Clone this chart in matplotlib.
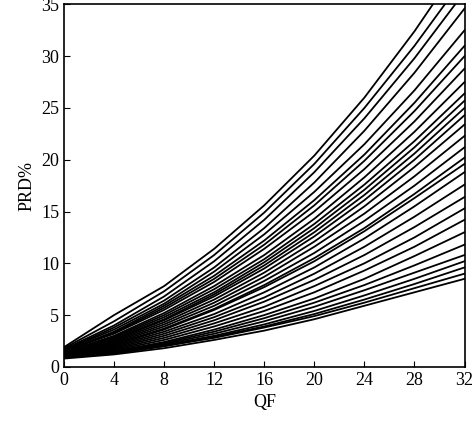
import matplotlib
matplotlib.use("Agg")
import matplotlib.pyplot as plt
import numpy as np

qf = [0, 4, 8, 12, 16, 20, 24, 28, 32]
curves = [
[0.8,1.2,1.8,2.6,3.5,4.6,5.9,7.2,8.5],
[0.9,1.3,2.0,2.8,3.8,4.9,6.2,7.6,9.0],
[0.9,1.3,2.0,2.9,3.9,5.1,6.5,8.0,9.6],
[1.0,1.4,2.1,3.0,4.1,5.4,6.9,8.5,10.2],
[1.0,1.4,2.2,3.2,4.4,5.8,7.4,9.1,10.8],
[1.0,1.5,2.3,3.4,4.7,6.2,7.9,9.8,11.8],
[1.0,1.5,2.4,3.6,5.0,6.6,8.5,10.7,13.0],
[1.1,1.6,2.6,3.9,5.4,7.2,9.3,11.6,14.2],
[1.1,1.7,2.8,4.2,5.8,7.8,10.0,12.5,15.3],
[1.1,1.8,3.0,4.5,6.3,8.4,10.8,13.5,16.4],
[1.2,1.9,3.2,4.8,6.7,9.0,11.6,14.5,17.6],
[1.2,2.0,3.4,5.1,7.2,9.6,12.4,15.5,18.8],
[1.2,2.1,3.6,5.5,7.7,10.2,13.1,16.3,19.6],
[1.2,2.2,3.7,5.6,7.9,10.5,13.4,16.7,20.2],
[1.3,2.3,3.9,5.9,8.3,11.0,14.1,17.5,21.2],
[1.3,2.4,4.1,6.2,8.7,11.6,14.8,18.4,22.3],
[1.3,2.5,4.3,6.5,9.1,12.1,15.5,19.3,23.4],
[1.3,2.6,4.5,6.8,9.5,12.6,16.1,20.0,24.3],
[1.4,2.7,4.6,7.0,9.8,13.0,16.6,20.6,25.0],
[1.4,2.8,4.8,7.2,10.1,13.4,17.1,21.2,25.7],
[1.4,2.9,5.0,7.5,10.4,13.8,17.6,21.8,26.4],
[1.4,3.0,5.2,7.8,10.8,14.3,18.3,22.7,27.5],
[1.5,3.2,5.5,8.2,11.4,15.0,19.1,23.7,28.8],
[1.5,3.3,5.7,8.5,11.8,15.6,19.9,24.7,30.0],
[1.5,3.4,5.9,8.8,12.2,16.1,20.5,25.5,31.0],
[1.6,3.6,6.1,9.2,12.8,16.9,21.5,26.7,32.5],
[1.6,3.8,6.4,9.6,13.4,17.8,22.8,28.4,34.6],
[1.7,4.0,6.8,10.2,14.2,18.8,24.0,29.8,36.2],
[1.8,4.4,7.3,10.8,14.9,19.6,25.0,31.0,37.6],
[1.9,5.0,7.8,11.4,15.6,20.4,26.0,32.4,39.5],
]
xticks = [0, 4, 8, 12, 16, 20, 24, 28, 32]
yticks = [0, 5, 10, 15, 20, 25, 30, 35]

plt.rcParams['font.family'] = ['Liberation Serif']
fig = plt.figure(figsize=(4.74, 4.42), dpi=100)
ax = fig.add_axes([0.135, 0.17, 0.845, 0.82])
for c in curves:
    ax.plot(qf, c, color='black', lw=1.3)
ax.set_xlim(0, 32)
ax.set_ylim(0, 35)
ax.set_xticks(xticks)
ax.set_yticks(yticks)
ax.tick_params(direction='in', labelsize=13, length=4)
ax.set_xlabel('QF', fontsize=13)
ax.set_ylabel('PRD%', fontsize=13)
for s in ax.spines.values():
    s.set_linewidth(1.2)
fig.savefig('out.png')
